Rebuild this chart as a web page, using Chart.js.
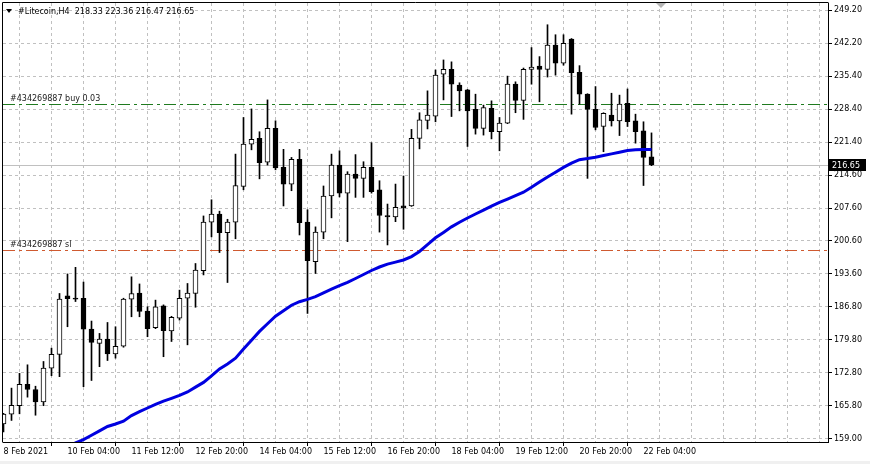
<!DOCTYPE html>
<html>
<head>
<meta charset="utf-8">
<script src="https://cdn.jsdelivr.net/npm/chart.js@4.4.1/dist/chart.umd.min.js"></script>
<style>
  html, body { margin: 0; padding: 0; background: #ffffff; }
  #c { display: block; }
</style>
</head>
<body>
<canvas id="c" width="870" height="464"></canvas>
<script>
// ---- data ----
const symbolTitle = '#Litecoin,H4  218.33 223.36 216.47 216.65';
const xTickLabels = ['8 Feb 2021', '10 Feb 04:00', '11 Feb 12:00', '12 Feb 20:00', '14 Feb 04:00',
  '15 Feb 12:00', '16 Feb 20:00', '18 Feb 04:00', '19 Feb 12:00', '20 Feb 20:00', '22 Feb 04:00'];
const yTickLabels = ['159.00', '165.80', '172.80', '179.80', '186.80', '193.60', '200.60',
  '207.60', '214.60', '221.40', '228.40', '235.40', '242.20', '249.20'];

const openPrices = [162.15, 164.2, 166.0, 170.5, 169.4, 166.8, 173.9, 176.8, 189.1, 188.5,
  188.6, 182.1, 179.1, 180.0, 176.9, 178.5, 188.4, 189.7, 185.9, 182.4,
  187.0, 181.7, 184.4, 188.6, 189.6, 194.4, 204.6, 206.3, 202.4, 204.6,
  212.1, 221.0, 222.2, 217.2, 224.3, 216.1, 212.6, 217.8, 204.6, 196.3,
  202.5, 210.1, 216.6, 210.7, 214.7, 213.8, 216.1, 211.4, 206.0, 205.7,
  208.0, 208.0, 222.2, 226.0, 226.9, 235.7, 236.7, 233.4, 232.4, 228.3,
  224.3, 228.5, 223.6, 225.4, 233.6, 230.2, 236.7, 237.4, 236.7, 241.8,
  238.0, 243.1, 236.1, 231.5, 228.3, 224.7, 227.1, 225.9, 229.6, 225.9,
  223.8, 218.33];
const highPrices = [164.4, 169.7, 172.8, 174.6, 170.1, 175.3, 178.1, 189.6, 193.7, 195.1,
  192.0, 183.8, 181.2, 183.5, 182.6, 188.6, 193.1, 191.6, 186.8, 188.2,
  187.2, 184.8, 190.3, 191.7, 195.9, 205.9, 209.3, 206.9, 205.2, 218.9,
  226.6, 228.4, 223.6, 230.3, 225.9, 219.9, 218.2, 219.9, 207.2, 203.6,
  212.2, 218.9, 219.6, 215.2, 218.8, 217.3, 221.3, 213.3, 208.4, 212.6,
  214.3, 224.1, 227.6, 232.2, 236.6, 238.7, 238.3, 233.9, 232.5, 231.5,
  229.2, 230.1, 226.6, 235.3, 234.1, 237.0, 241.3, 239.4, 246.1, 244.0,
  244.0, 243.2, 237.5, 231.6, 233.1, 227.6, 231.7, 231.3, 232.6, 227.3,
  225.7, 223.36];
const lowPrices = [160.5, 162.9, 164.3, 167.8, 164.0, 166.0, 172.3, 172.1, 182.6, 187.9,
  170.0, 171.3, 174.2, 175.5, 176.0, 178.3, 184.7, 184.7, 180.5, 182.2,
  176.3, 179.5, 184.0, 178.8, 186.7, 193.5, 201.5, 198.2, 191.9, 201.1,
  211.4, 219.8, 213.7, 216.6, 215.6, 208.0, 211.2, 201.9, 185.4, 193.8,
  201.1, 205.5, 209.9, 200.5, 209.8, 209.8, 210.7, 202.5, 199.8, 204.7,
  203.1, 207.9, 220.0, 224.2, 225.7, 230.3, 226.8, 228.0, 220.5, 223.1,
  222.9, 222.1, 219.6, 225.3, 227.6, 226.2, 233.6, 229.9, 235.1, 235.5,
  237.6, 227.3, 229.4, 213.8, 224.0, 219.4, 224.8, 222.8, 224.7, 221.2,
  212.3, 216.47];
const closePrices = [164.26, 166.1, 170.5, 169.4, 166.8, 173.9, 176.8, 188.4, 188.5, 188.4,
  182.1, 179.3, 180.0, 176.9, 178.5, 188.4, 189.6, 185.8, 182.2, 186.8,
  181.8, 184.6, 188.6, 189.7, 194.5, 204.6, 206.3, 202.4, 204.6, 212.3,
  221.0, 222.0, 217.1, 224.3, 216.0, 212.6, 217.8, 204.5, 196.5, 202.5,
  210.1, 216.6, 210.7, 214.7, 213.8, 216.1, 211.0, 206.0, 205.7, 207.7,
  207.6, 222.2, 226.1, 227.1, 235.5, 236.7, 233.6, 232.2, 228.0, 224.3,
  228.7, 223.6, 225.4, 233.6, 230.2, 236.7, 237.2, 236.7, 241.8, 238.0,
  242.2, 236.0, 231.5, 228.3, 224.5, 227.5, 225.9, 229.4, 225.7, 223.6,
  218.2, 216.65];
const movingAverage = [null, null, null, null, null, null, null, null, 157.42, 158.16,
  158.87, 159.80, 160.72, 161.63, 162.15, 162.76, 163.92, 164.74, 165.52, 166.27,
  166.95, 167.56, 168.17, 168.90, 169.91, 170.90, 172.29, 173.74, 174.79, 175.99,
  177.90, 179.77, 181.62, 183.24, 184.82, 185.98, 187.13, 187.87, 188.37, 188.94,
  189.72, 190.50, 191.23, 191.95, 192.75, 193.59, 194.43, 195.16, 195.77, 196.19,
  196.64, 197.35, 198.44, 199.87, 201.30, 202.44, 203.60, 204.58, 205.47, 206.31,
  207.13, 207.97, 208.75, 209.46, 210.18, 210.89, 211.92, 213.02, 214.09, 215.10,
  216.11, 216.99, 217.73, 217.96, 218.23, 218.59, 218.95, 219.30, 219.66, 219.81,
  219.87, 219.89];
const orderLevels = [
  { text: '#434269887 buy 0.03', price: 229.37, color: '#1f7a1f' },
  { text: '#434269887 sl', price: 198.74, color: '#cf5a30' }
];
const currentPrice = closePrices[closePrices.length - 1];

// ---- derived tables for the library ----
const bodyData = openPrices.map((o, i) => ({ x: i, y: [o, closePrices[i]] }));
const wickData = lowPrices.map((l, i) => ({ x: i, y: [l, highPrices[i]] }));
const maData = movingAverage.map((v, i) => ({ x: i, y: v }));
const yFirst = parseFloat(yTickLabels[0]);
const yLast = parseFloat(yTickLabels[yTickLabels.length - 1]);

const FONT = { family: '"DejaVu Sans", Verdana, sans-serif', size: 8 };
const FONT_CSS = '8px "DejaVu Sans", Verdana, sans-serif';

const decorPlugin = {
  id: 'decor',
  beforeDraw(chart) {
    const c = chart.ctx;
    c.save();
    c.fillStyle = '#f0f0f0';
    c.fillRect(0, 461, chart.width, chart.height - 461);
    c.restore();
  },
  beforeDatasetsDraw(chart) {
    const c = chart.ctx, a = chart.chartArea, ys = chart.scales.y;
    c.save();
    c.beginPath(); c.rect(a.left, a.top, a.right - a.left, a.bottom - a.top); c.clip();
    // current price line
    let py = Math.round(ys.getPixelForValue(currentPrice)) + 0.5;
    c.strokeStyle = '#c0c0c0'; c.lineWidth = 1; c.setLineDash([]);
    c.beginPath(); c.moveTo(a.left, py); c.lineTo(a.right, py); c.stroke();
    // order levels
    orderLevels.forEach(l => {
      const y = Math.round(ys.getPixelForValue(l.price)) + 0.5;
      c.strokeStyle = l.color; c.setLineDash([12, 4, 3, 4]);
      c.beginPath(); c.moveTo(a.left, y); c.lineTo(a.right, y); c.stroke();
      c.setLineDash([]);
      c.fillStyle = '#202020'; c.font = FONT_CSS; c.textBaseline = 'middle'; c.textAlign = 'left';
      c.fillText(l.text, 10, y - 6);
    });
    c.restore();
  },
  afterDraw(chart) {
    const c = chart.ctx, a = chart.chartArea, ys = chart.scales.y;
    c.save();
    // frame
    c.strokeStyle = '#000'; c.lineWidth = 1; c.setLineDash([]);
    c.beginPath();
    c.moveTo(2.5, a.bottom + 0.5); c.lineTo(2.5, 2.5); c.lineTo(a.right + 0.5, 2.5);
    c.stroke();
    // title
    c.fillStyle = '#000';
    c.beginPath(); c.moveTo(6, 9); c.lineTo(12, 9); c.lineTo(9, 13); c.closePath(); c.fill();
    c.font = FONT_CSS; c.textBaseline = 'middle'; c.textAlign = 'left';
    c.fillText(symbolTitle, 18, 11.5);
    // shift marker
    c.fillStyle = '#b4b4b4';
    c.beginPath(); c.moveTo(656, 3); c.lineTo(666, 3); c.lineTo(661, 8); c.closePath(); c.fill();
    // price tag
    const py = Math.round(ys.getPixelForValue(currentPrice));
    c.fillStyle = '#000';
    c.fillRect(a.right + 1, py - 6, 37, 12);
    c.fillStyle = '#fff';
    c.fillText(currentPrice.toFixed(2), a.right + 4, py + 0.5);
    c.restore();
  }
};

new Chart(document.getElementById('c'), {
  type: 'bar',
  data: {
    datasets: [
      {
        type: 'line', label: 'MA', data: maData, borderColor: '#0000e0', borderWidth: 3,
        pointRadius: 0, tension: 0, order: 1, clip: 0, spanGaps: false
      },
      {
        label: 'bodies', data: bodyData, grouped: false, order: 2,
        backgroundColor: ctx => {
          const i = ctx.dataIndex;
          return closePrices[i] >= openPrices[i] ? '#ffffff' : '#000000';
        },
        borderColor: '#000000', borderWidth: 1, borderSkipped: false,
        barThickness: 5, minBarLength: 1
      },
      {
        label: 'wicks', data: wickData, grouped: false, order: 3,
        backgroundColor: '#000000', borderWidth: 0, barThickness: 1
      }
    ]
  },
  options: {
    responsive: false,
    animation: false,
    devicePixelRatio: 1,
    layout: { padding: { left: 3, top: 3, right: 0, bottom: 0 } },
    plugins: { legend: { display: false }, tooltip: { enabled: false } },
    scales: {
      x: {
        type: 'linear', min: -0.0625, max: 103.0625, offset: false,
        afterBuildTicks: s => {
          const t = [];
          for (let v = 0; v <= 100; v += 4) t.push({ value: v });
          s.ticks = t;
        },
        afterFit: s => { s.height = 22; s.paddingLeft = 0; s.paddingRight = 0; },
        ticks: {
          autoSkip: false, maxRotation: 0, minRotation: 0, align: 'start', padding: 1,
          font: FONT, color: '#000',
          callback: v => (v % 8 === 0 && xTickLabels[v / 8]) ? xTickLabels[v / 8] : ''
        },
        grid: {
          color: ctx => ctx.index === 0 ? 'rgba(0,0,0,0)' : '#c0c0c0',
          lineWidth: 1, tickLength: 4, tickBorderDash: [],
          tickColor: ctx => (ctx.tick && ctx.tick.value % 8 === 0 && xTickLabels[ctx.tick.value / 8]) ? '#000' : 'rgba(0,0,0,0)'
        },
        border: { color: '#000', width: 1, dash: [3, 3] }
      },
      y: {
        type: 'linear', position: 'right', min: 158.369, max: 250.672,
        afterBuildTicks: s => {
          s.ticks = yTickLabels.map((t, i) => ({ value: yFirst + i * (yLast - yFirst) / (yTickLabels.length - 1) }));
        },
        afterFit: s => { s.width = 42; s.paddingTop = 0; s.paddingBottom = 0; },
        ticks: {
          padding: 2, font: FONT, color: '#000', crossAlign: 'near',
          callback: (v, i) => yTickLabels[i]
        },
        grid: { color: '#c0c0c0', lineWidth: 1, tickLength: 4, tickColor: '#000', tickBorderDash: [] },
        border: { color: '#000', width: 1, dash: [3, 3] }
      }
    }
  },
  plugins: [decorPlugin]
});
</script>
</body>
</html>
